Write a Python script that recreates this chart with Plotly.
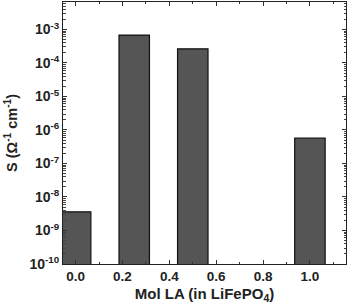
import plotly.graph_objects as go

mol_la = [0.0, 0.25, 0.5, 1.0]
conductivity = [3.6e-9, 6.8e-4, 2.65e-4, 5.7e-7]
bar_width = 0.13

y_exponents = [-10, -9, -8, -7, -6, -5, -4, -3]
y_tickvals = [10.0 ** e for e in y_exponents]
y_ticktext = ["<b>10<sup>%d</sup></b>" % e for e in y_exponents]

x_tickvals = [0.0, 0.2, 0.4, 0.6, 0.8, 1.0]
x_ticktext = ["<b>%s</b>" % t for t in ["0.0", "0.2", "0.4", "0.6", "0.8", "1.0"]]

font_family = "Liberation Sans, Arial, sans-serif"

fig = go.Figure(go.Bar(
    x=mol_la, y=conductivity, width=bar_width,
    marker=dict(color="#555555", line=dict(color="#111111", width=1.2)),
))

fig.update_layout(
    width=350, height=308,
    margin=dict(l=63, r=4, t=2, b=44, autoexpand=False),
    paper_bgcolor="white", plot_bgcolor="white",
    showlegend=False,
    font=dict(family=font_family, color="#222222"),
)

fig.update_xaxes(
    automargin=False,
    range=[-0.054, 1.154],
    tickmode="array", tickvals=x_tickvals, ticktext=x_ticktext,
    ticks="inside", ticklen=4, tickwidth=1, tickcolor="#333333",
    minor=dict(ticks="inside", dtick=0.1, ticklen=2, tickcolor="#333333", showgrid=False),
    showline=True, linecolor="#222222", linewidth=1, mirror="ticks",
    showgrid=False, zeroline=False,
    tickfont=dict(size=13.5, family=font_family, color="#222222"),
    title=dict(text="<b>Mol LA (in LiFePO<sub>4</sub>)</b>", font=dict(size=15), standoff=5),
)

fig.update_yaxes(
    automargin=False,
    type="log", range=[-10, -2.18],
    tickmode="array", tickvals=y_tickvals, ticktext=y_ticktext,
    ticks="inside", ticklen=4, tickwidth=1, tickcolor="#333333",
    minor=dict(ticks="inside", dtick="D1", ticklen=2.5, tickcolor="#444444", showgrid=False),
    showline=True, linecolor="#222222", linewidth=1, mirror="ticks",
    showgrid=False, zeroline=False,
    tickfont=dict(size=14, family=font_family, color="#222222"),
    title=dict(text="<b>S (Ω<sup>-1</sup> cm<sup>-1</sup>)</b>", font=dict(size=14.5), standoff=8),
)

fig.write_html("out.html", post_script="document.body.style.margin='0';",
               config={"displayModeBar": False})
